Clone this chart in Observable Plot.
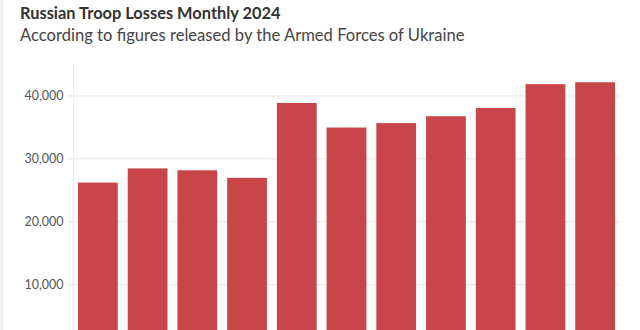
<!DOCTYPE html>
<html>
<head>
<meta charset="utf-8">
<script src="https://cdn.jsdelivr.net/npm/d3@7"></script>
<script src="https://cdn.jsdelivr.net/npm/@observablehq/plot@0.6"></script>
<style>
  html, body { margin: 0; padding: 0; background: #fff; overflow: hidden; width: 640px; height: 330px; }
  #wrap { position: relative; width: 640px; height: 330px; }
  #edge { position: absolute; left: 0; top: 0; width: 3px; height: 330px; background: #efefef; }
  #title { position: absolute; left: 20px; top: 3px; font-family: Lato, sans-serif; font-weight: 700; font-size: 16.4px; color: #333; white-space: nowrap; }
  #subtitle { position: absolute; left: 20px; top: 24.6px; font-family: Lato, sans-serif; font-weight: 400; font-size: 16.6px; color: #444; white-space: nowrap; }
  #chart { position: absolute; left: 0; top: 50px; }
</style>
</head>
<body>
<div id="wrap">
  <div id="edge"></div>
  <div id="title">Russian Troop Losses Monthly 2024</div>
  <div id="subtitle">According to figures released by the Armed Forces of Ukraine</div>
  <div id="chart"></div>
</div>
<script>
const months = ["Jan", "Feb", "Mar", "Apr", "May", "Jun", "Jul", "Aug", "Sep", "Oct", "Nov"];
const losses = [26150, 28400, 28100, 26900, 38800, 34900, 35600, 36700, 38000, 41800, 42100];
const yTicks = [10000, 20000, 30000, 40000];

const data = months.map((m, i) => ({month: m, value: losses[i]}));

const chart = Plot.plot({
  width: 640,
  height: 297,
  marginTop: 14,
  marginLeft: 73,
  marginRight: 20,
  marginBottom: 0,
  style: {fontFamily: "Lato, sans-serif", fontSize: "12.5px", color: "#555", background: "transparent", overflow: "visible"},
  x: {domain: months, paddingInner: 0.2, paddingOuter: 0.1, round: false, label: null, axis: null},
  y: {domain: [0, 45000], label: null, axis: null},
  marks: [
    Plot.gridY(yTicks, {stroke: "#e6e6e6", strokeOpacity: 1}),
    Plot.frame({anchor: "left", stroke: "#ececec"}),
    Plot.barY(data, {x: "month", y: "value", fill: "#c8464a", fillOpacity: 1}),
    Plot.axisY(yTicks, {tickSize: 5, tickPadding: 5, stroke: "#e0e0e0", tickFormat: d3.format(","), fill: "#555", label: null})
  ]
});
document.getElementById("chart").appendChild(chart);
</script>
</body>
</html>
